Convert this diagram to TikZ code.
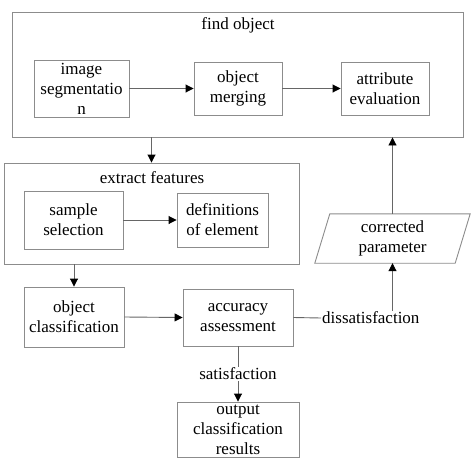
\documentclass[tikz,border=0pt]{standalone}
\usepackage{fontspec}
\setmainfont{Liberation Serif}
\usetikzlibrary{arrows.meta}
\begin{document}
\begin{tikzpicture}[x=1pt,y=-1pt,
  font=\fontsize{17}{20}\selectfont,
  box/.style={draw=black!45, line width=0.9pt, rectangle, align=center, inner sep=0pt},
  lbl/.style={inner sep=1pt, align=center},
  conn/.style={draw=black!60, line width=0.9pt},
  arr/.style={conn, -{Triangle[length=8pt,width=8pt,color=black]}}]
\useasboundingbox (0,0) rectangle (474,474);
\fill[white] (0,0) rectangle (474,474);
% outer groups
\node[box, minimum width=451pt, minimum height=125pt] (find) at (237.5,74.5) {};
\node[lbl] (findl) at (238,25) {find object};
\node[box, minimum width=295pt, minimum height=101pt] (ext) at (151.5,213.5) {};
\node[lbl] (extl) at (152,178) {extract features};
% inner boxes
\node[box, minimum width=95pt, minimum height=57pt] (seg) at (81.5,88.5) {image\\segmentatio\\n};
\node[box, minimum width=88pt, minimum height=53pt] (mer) at (238,88.5) {object\\merging};
\node[box, minimum width=88pt, minimum height=53pt] (att) at (385,88.5) {attribute\\evaluation};
\node[box, minimum width=99pt, minimum height=58pt] (sam) at (73.5,220) {sample\\selection};
\node[box, minimum width=91pt, minimum height=54pt] (def) at (222.5,220) {definitions\\of element};
% parallelogram
\node[lbl, minimum width=140pt, minimum height=49pt, inner sep=0pt] (cp) at (392.5,238.5) {corrected\\parameter};
\draw[draw=black!45, line width=0.9pt]
  ([xshift=-7.5pt]cp.south west) -- ([xshift=-7.5pt]cp.south east)
  -- ([xshift=7.5pt]cp.north east) -- ([xshift=7.5pt]cp.north west) -- cycle;
\node[box, minimum width=100pt, minimum height=60pt] (oc) at (74,317) {object\\classification};
\node[box, minimum width=110pt, minimum height=57pt] (acc) at (238,317.5) {accuracy\\assessment};
\node[box, minimum width=122pt, minimum height=55pt] (out) at (238,429.5) {output\\classification\\results};
\node[lbl, anchor=west] (dis) at (321,318) {dissatisfaction};
\node[lbl] (sat) at (238,374) {satisfaction};
% connectors
\draw[arr] (seg) -- (mer);
\draw[arr] (mer) -- (att);
\draw[arr] (sam.east) -- (def.west);
\draw[arr] (find.south -| ext.north) -- (ext.north);
\draw[arr] (ext.south -| oc.north) -- (oc.north);
\draw[arr] (oc.east) -- (acc.west);
\draw[conn] (acc.east) -- (dis.west);
\draw[arr] (dis.north -| cp.south) -- (cp.south);
\draw[arr] (cp.north) -- (cp.north |- find.south);
\draw[conn] (acc.south) -- (sat.north);
\draw[arr] (sat.south) -- (out.north);
\end{tikzpicture}
\end{document}
